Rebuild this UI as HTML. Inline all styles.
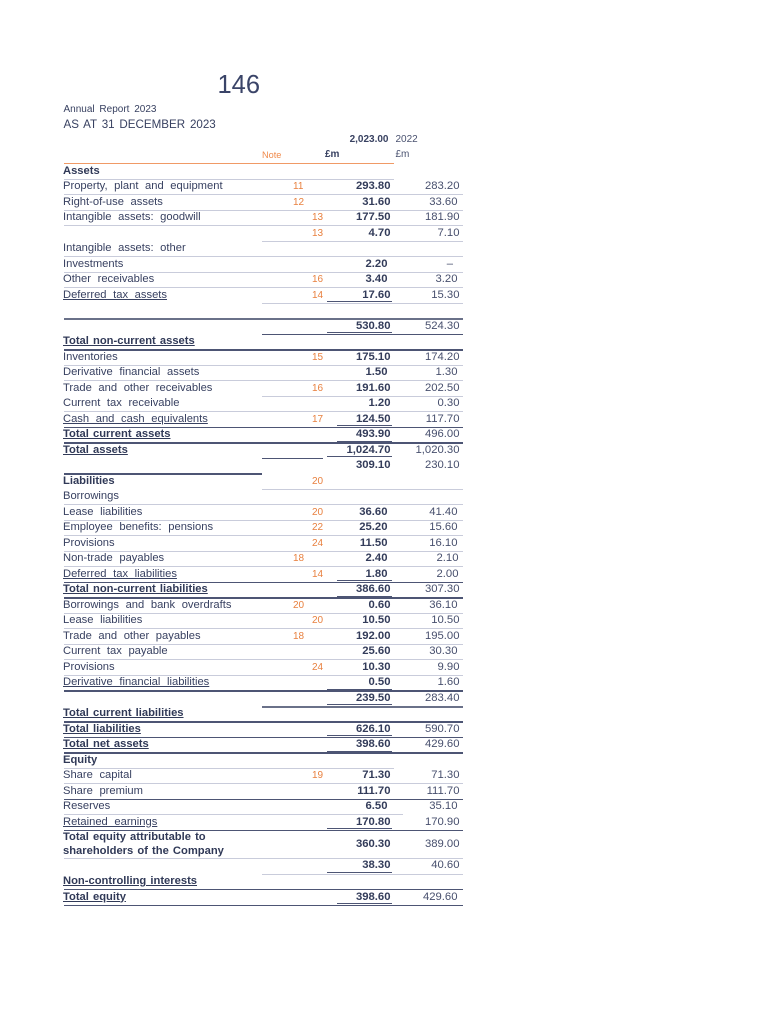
<!DOCTYPE html>
<html><head><meta charset="utf-8">
<style>
html,body{margin:0;padding:0;background:#fff}
body{width:768px;height:1024px;position:relative;overflow:hidden;font-family:"Liberation Sans",Arial,sans-serif;color:#384161}
.t{position:absolute;white-space:nowrap;line-height:1}
.r{position:absolute;left:0;width:768px;height:15.5px;line-height:15.5px}
.r>span{position:absolute;top:0;white-space:nowrap}
.l{left:63px;font-size:11.2px;word-spacing:3.5px}
.b{font-weight:bold;word-spacing:1px;color:#303957}
.u{text-decoration:underline}
.n{font-size:10px;color:#e8803f}
.nl{left:293px}.nr{left:312px}
.c{right:377.5px;font-weight:bold;font-size:11.3px;color:#333c5a}
.c2{right:380.5px}
.p{right:308.5px;font-size:11.3px;color:#474f6d}
.p2{right:310.5px}
.h{position:absolute;height:1px;background:#c9ccdb}
.d{position:absolute;height:1.5px;background:#4d5574}
.v{position:absolute;height:1px;background:#4d5574}
</style></head><body>

<div class="t" style="left:217.5px;top:73.4px;font-size:25.5px;color:#3a4468">146</div>
<div class="t" style="left:63.5px;top:104.8px;font-size:10px;word-spacing:2px">Annual Report 2023</div>
<div class="t" style="left:63.5px;top:118.5px;font-size:11.6px;word-spacing:1.6px">AS AT 31 DECEMBER 2023</div>
<div class="t" style="right:379.5px;top:134.8px;font-size:10px;font-weight:bold">2,023.00</div>
<div class="t" style="left:395.5px;top:134.8px;font-size:10px;color:#4a5270">2022</div>
<div class="t" style="left:262px;top:150.5px;font-size:9.2px;color:#f08a4b">Note</div>
<div class="t" style="left:325px;top:150px;font-size:10px;font-weight:bold">£m</div>
<div class="t" style="left:395.5px;top:150px;font-size:10px;color:#4a5270">£m</div>
<div style="position:absolute;left:64px;width:330px;top:162.5px;height:1.5px;background:#f09a66"></div>

<div class="r" style="top:163.8px"><span class="l b">Assets</span></div>
<div class="r" style="top:179.3px"><span class="l">Property, plant and equipment</span><span class="n nl">11</span><span class="c">293.80</span><span class="p">283.20</span></div>
<div class="r" style="top:194.8px"><span class="l">Right-of-use assets</span><span class="n nl">12</span><span class="c">31.60</span><span class="p p2">33.60</span></div>
<div class="r" style="top:210.3px"><span class="l">Intangible assets: goodwill</span><span class="n nr">13</span><span class="c">177.50</span><span class="p">181.90</span></div>
<div class="r" style="top:225.8px"><span class="n nr">13</span><span class="c">4.70</span><span class="p">7.10</span></div>
<div class="r" style="top:241.3px"><span class="l">Intangible assets: other</span></div>
<div class="r" style="top:256.8px"><span class="l">Investments</span><span class="c c2">2.20</span><span class="p" style="right:315px">–</span></div>
<div class="r" style="top:272.3px"><span class="l">Other receivables</span><span class="n nr">16</span><span class="c c2">3.40</span><span class="p p2">3.20</span></div>
<div class="r" style="top:287.8px"><span class="l u">Deferred tax assets</span><span class="n nr">14</span><span class="c">17.60</span><span class="p">15.30</span></div>
<div class="r" style="top:318.8px"><span class="c">530.80</span><span class="p">524.30</span></div>
<div class="r" style="top:334.3px"><span class="l b u">Total non-current assets</span></div>
<div class="r" style="top:349.8px"><span class="l">Inventories</span><span class="n nr">15</span><span class="c">175.10</span><span class="p">174.20</span></div>
<div class="r" style="top:365.3px"><span class="l">Derivative financial assets</span><span class="c c2">1.50</span><span class="p p2">1.30</span></div>
<div class="r" style="top:380.8px"><span class="l">Trade and other receivables</span><span class="n nr">16</span><span class="c">191.60</span><span class="p">202.50</span></div>
<div class="r" style="top:396.3px"><span class="l">Current tax receivable</span><span class="c">1.20</span><span class="p">0.30</span></div>
<div class="r" style="top:411.8px"><span class="l u">Cash and cash equivalents</span><span class="n nr">17</span><span class="c">124.50</span><span class="p">117.70</span></div>
<div class="r" style="top:427.3px"><span class="l b u">Total current assets</span><span class="c">493.90</span><span class="p">496.00</span></div>
<div class="r" style="top:442.8px"><span class="l b u">Total assets</span><span class="c">1,024.70</span><span class="p">1,020.30</span></div>
<div class="r" style="top:458.3px"><span class="c">309.10</span><span class="p">230.10</span></div>
<div class="r" style="top:473.8px"><span class="l b">Liabilities</span><span class="n nr">20</span></div>
<div class="r" style="top:489.3px"><span class="l">Borrowings</span></div>
<div class="r" style="top:504.8px"><span class="l">Lease liabilities</span><span class="n nr">20</span><span class="c c2">36.60</span><span class="p p2">41.40</span></div>
<div class="r" style="top:520.3px"><span class="l">Employee benefits: pensions</span><span class="n nr">22</span><span class="c c2">25.20</span><span class="p p2">15.60</span></div>
<div class="r" style="top:535.8px"><span class="l">Provisions</span><span class="n nr">24</span><span class="c c2">11.50</span><span class="p p2">16.10</span></div>
<div class="r" style="top:551.3px"><span class="l">Non-trade payables</span><span class="n nl">18</span><span class="c c2">2.40</span><span class="p" style="right:309.5px">2.10</span></div>
<div class="r" style="top:566.8px"><span class="l u">Deferred tax liabilities</span><span class="n nr">14</span><span class="c c2">1.80</span><span class="p" style="right:309.5px">2.00</span></div>
<div class="r" style="top:582.3px"><span class="l b u">Total non-current liabilities</span><span class="c">386.60</span><span class="p">307.30</span></div>
<div class="r" style="top:597.8px"><span class="l">Borrowings and bank overdrafts</span><span class="n nl">20</span><span class="c">0.60</span><span class="p p2">36.10</span></div>
<div class="r" style="top:613.3px"><span class="l">Lease liabilities</span><span class="n nr">20</span><span class="c">10.50</span><span class="p">10.50</span></div>
<div class="r" style="top:628.8px"><span class="l">Trade and other payables</span><span class="n nl">18</span><span class="c">192.00</span><span class="p">195.00</span></div>
<div class="r" style="top:644.3px"><span class="l">Current tax payable</span><span class="c">25.60</span><span class="p p2">30.30</span></div>
<div class="r" style="top:659.8px"><span class="l">Provisions</span><span class="n nr">24</span><span class="c">10.30</span><span class="p">9.90</span></div>
<div class="r" style="top:675.3px"><span class="l u">Derivative financial liabilities</span><span class="c">0.50</span><span class="p">1.60</span></div>
<div class="r" style="top:690.8px"><span class="c">239.50</span><span class="p">283.40</span></div>
<div class="r" style="top:706.3px"><span class="l b u">Total current liabilities</span></div>
<div class="r" style="top:721.8px"><span class="l b u">Total liabilities</span><span class="c">626.10</span><span class="p">590.70</span></div>
<div class="r" style="top:737.3px"><span class="l b u">Total net assets</span><span class="c">398.60</span><span class="p">429.60</span></div>
<div class="r" style="top:752.8px"><span class="l b">Equity</span></div>
<div class="r" style="top:768.3px"><span class="l">Share capital</span><span class="n nr">19</span><span class="c">71.30</span><span class="p">71.30</span></div>
<div class="r" style="top:783.8px"><span class="l">Share premium</span><span class="c">111.70</span><span class="p">111.70</span></div>
<div class="r" style="top:799.3px"><span class="l">Reserves</span><span class="c c2">6.50</span><span class="p p2">35.10</span></div>
<div class="r" style="top:814.8px"><span class="l u">Retained earnings</span><span class="c">170.80</span><span class="p">170.90</span></div>
<div class="r" style="top:830.3px;height:28px;line-height:28px"><span class="l b" style="line-height:14px;top:0;padding-top:0">Total equity attributable to<br>shareholders of the Company</span><span class="c">360.30</span><span class="p">389.00</span></div>
<div class="r" style="top:858.3px"><span class="c">38.30</span><span class="p">40.60</span></div>
<div class="r" style="top:874px"><span class="l b u">Non-controlling interests</span></div>
<div class="r" style="top:889.5px"><span class="l b u">Total equity</span><span class="c">398.60</span><span class="p p2">429.60</span></div>

<!-- row lines -->
<div class="h" style="left:64px;width:330px;top:178.8px"></div>
<div class="h" style="left:64px;width:399px;top:194.3px"></div>
<div class="h" style="left:64px;width:399px;top:209.8px"></div>
<div class="h" style="left:64px;width:399px;top:225.3px"></div>
<div class="h" style="left:262px;width:201px;top:240.8px"></div>
<div class="h" style="left:64px;width:399px;top:256.3px"></div>
<div class="h" style="left:64px;width:399px;top:271.8px"></div>
<div class="h" style="left:64px;width:399px;top:287.3px"></div>
<div class="h" style="left:262px;width:201px;top:302.8px"></div>
<div class="d" style="left:64px;width:399px;top:318px;background:#6a7189;height:2px"></div>
<div class="d" style="left:262px;width:201px;top:333.5px"></div>
<div class="d" style="left:64px;width:399px;top:349px"></div>
<div class="h" style="left:64px;width:399px;top:364.8px"></div>
<div class="h" style="left:64px;width:399px;top:380.3px"></div>
<div class="h" style="left:262px;width:201px;top:395.8px"></div>
<div class="h" style="left:64px;width:399px;top:411.3px"></div>
<div class="d" style="left:64px;width:399px;top:426.5px"></div>
<div class="d" style="left:64px;width:399px;top:442px"></div>
<div class="d" style="left:262px;width:61px;top:457.5px"></div>
<div class="d" style="left:64px;width:198px;top:473px"></div>
<div class="h" style="left:262px;width:201px;top:488.8px"></div>
<div class="h" style="left:64px;width:399px;top:504.3px"></div>
<div class="h" style="left:64px;width:399px;top:519.8px"></div>
<div class="h" style="left:64px;width:399px;top:535.3px"></div>
<div class="h" style="left:64px;width:399px;top:550.8px"></div>
<div class="h" style="left:64px;width:399px;top:566.3px"></div>
<div class="d" style="left:64px;width:399px;top:581.5px"></div>
<div class="d" style="left:64px;width:399px;top:597px"></div>
<div class="h" style="left:64px;width:399px;top:612.8px"></div>
<div class="h" style="left:64px;width:399px;top:628.3px"></div>
<div class="h" style="left:64px;width:399px;top:643.8px"></div>
<div class="h" style="left:64px;width:399px;top:659.3px"></div>
<div class="h" style="left:64px;width:399px;top:674.8px"></div>
<div class="d" style="left:64px;width:399px;top:690px"></div>
<div class="d" style="left:262px;width:201px;top:705.5px;background:#6a7189;height:2px"></div>
<div class="d" style="left:64px;width:399px;top:721px"></div>
<div class="d" style="left:64px;width:399px;top:736.5px"></div>
<div class="d" style="left:64px;width:399px;top:752px"></div>
<div class="h" style="left:64px;width:330px;top:767.8px"></div>
<div class="h" style="left:64px;width:399px;top:783.3px"></div>
<div class="d" style="left:64px;width:399px;top:798.5px"></div>
<div class="h" style="left:64px;width:339px;top:814.3px"></div>
<div class="d" style="left:64px;width:399px;top:829.5px"></div>
<div class="h" style="left:64px;width:399px;top:857.8px"></div>
<div class="h" style="left:262px;width:201px;top:873.5px"></div>
<div class="d" style="left:64px;width:399px;top:888.8px"></div>
<div class="d" style="left:64px;width:399px;top:904.5px"></div>

<!-- value underlines -->
<div class="v" style="left:327px;width:65px;top:301px"></div>
<div class="v" style="left:327px;width:65px;top:332px"></div>
<div class="v" style="left:337px;width:55px;top:425px"></div>
<div class="v" style="left:337px;width:55px;top:440.5px"></div>
<div class="v" style="left:327px;width:65px;top:456px"></div>
<div class="v" style="left:337px;width:55px;top:580px"></div>
<div class="v" style="left:337px;width:55px;top:595.5px"></div>
<div class="v" style="left:327px;width:65px;top:688.5px"></div>
<div class="v" style="left:327px;width:65px;top:704px"></div>
<div class="v" style="left:327px;width:65px;top:735px"></div>
<div class="v" style="left:327px;width:65px;top:750.5px"></div>
<div class="v" style="left:327px;width:65px;top:828px"></div>
<div class="v" style="left:327px;width:65px;top:871.5px"></div>
<div class="v" style="left:337px;width:55px;top:902.7px"></div>

</body></html>
